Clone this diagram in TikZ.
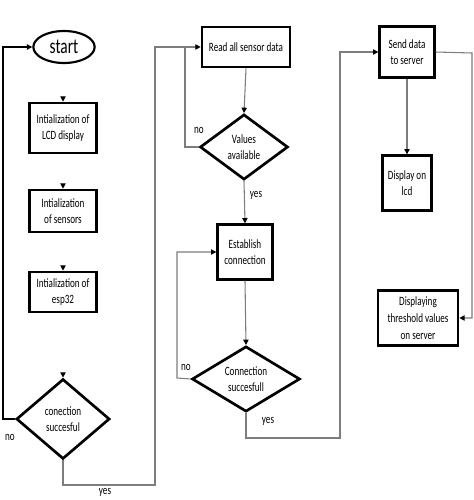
\documentclass[tikz,border=0pt]{standalone}
\usepackage{fontspec}
\setmainfont{Carlito}[FakeStretch=0.72]
\usetikzlibrary{shapes.geometric,arrows.meta}
\definecolor{linkgray}{RGB}{125,125,125}

\tikzset{every picture/.style={line width=0.75pt}}
\tikzset{
  stepbox/.style={draw, line width=2pt, align=center, inner sep=1pt,
    font=\fontsize{9.5}{12.5}\selectfont},
  decision/.style={draw, diamond, line width=2pt, align=center, inner sep=0pt,
    font=\fontsize{9.5}{12.5}\selectfont},
  link/.style={draw=linkgray, line width=0.8pt},
  arrow/.style={link, -{Triangle[width=4pt,length=4pt,color=black]}},
  lbl/.style={inner sep=0.75pt, font=\fontsize{9.5}{11}\selectfont}
}

\begin{document}
\begin{tikzpicture}[x=0.75pt,y=0.75pt,yscale=-1,xscale=1]

\useasboundingbox (0,0) rectangle (474,500);

% first column
\draw (64,47) node [draw, ellipse, line width=1.6pt, minimum width=46pt, minimum height=24pt, inner sep=0pt, font=\fontsize{16}{16}\selectfont] (start) {start};
\draw (63,128) node [stepbox, minimum width=50pt, minimum height=37.5pt] (lcd) {Intialization of\\LCD display};
\draw (63,211) node [stepbox, minimum width=50pt, minimum height=31.5pt] (sens) {Intialization\\of sensors};
\draw (63,292) node [stepbox, minimum width=50pt, minimum height=30pt] (esp) {Intialization of\\esp32};
\draw (63,419) node [decision, minimum width=70pt, minimum height=60pt, shape aspect=1.15] (conA) {conection\\succesful};

% second column
\draw (246,47) node [stepbox, minimum width=66pt, minimum height=30pt] (read) {Read all sensor data};
\draw (244,147) node [decision, minimum width=66pt, minimum height=49pt, shape aspect=1.35] (vals) {Values\\available};
\draw (245,252) node [stepbox, minimum width=41pt, minimum height=41pt] (est) {Establish\\connection};
\draw (246,379) node [decision, minimum width=81pt, minimum height=49pt, shape aspect=1.65] (conB) {Connection\\succesfull};

% third column
\draw (407,52) node [stepbox, minimum width=41pt, minimum height=38pt] (send) {Send data\\to server};
\draw (407,183) node [stepbox, minimum width=37pt, minimum height=41pt] (disp) {Display on\\lcd};
\draw (418,318) node [stepbox, minimum width=60pt, minimum height=41pt] (thr) {Displaying\\threshold values\\on server};

% bends
\coordinate (lft) at (3,47);
\coordinate (yesA) at (155,485);
\coordinate (noA) at (185,47);
\coordinate (noB) at (177,378);
\coordinate (yesB) at (340,438);
\coordinate (rgt) at (472,53);

% connectors
\draw [arrow, draw=black] (conA.west) -| (lft) -- (start.west);
\draw [arrow] (lcd.north) ++(0,-5) -- (lcd.north);
\draw [arrow] (sens.north) ++(0,-5) -- (sens.north);
\draw [arrow] (esp.north) ++(0,-5) -- (esp.north);
\draw [arrow] (conA.north) ++(0,-5) -- (conA.north);
\draw [arrow] (conA.south) |- (yesA) |- (read.west);

\draw [arrow] (read.south) -- (vals.north);
\draw [link] (vals.west) -| (noA);
\draw [arrow] (vals.south) -- (est.north);
\draw [arrow] (est.south) -- (conB.north);
\draw [arrow] (conB.west) -- (noB) |- (est.west);
\draw [arrow] (conB.south) |- (yesB) |- (send.west);

\draw [arrow] (send.south) -- (disp.north);
\draw [arrow] (send.east) -- (rgt) |- (thr.east);

% labels
\draw (10,437) node [lbl] (noAlbl) {no};
\draw (105,492) node [lbl] (yesAlbl) {yes};
\draw (199,130) node [lbl] (novlbl) {no};
\draw (256,195) node [lbl] (yesvlbl) {yes};
\draw (186,367) node [lbl] (noBlbl) {no};
\draw (268,421) node [lbl] (yesBlbl) {yes};

\end{tikzpicture}
\end{document}
